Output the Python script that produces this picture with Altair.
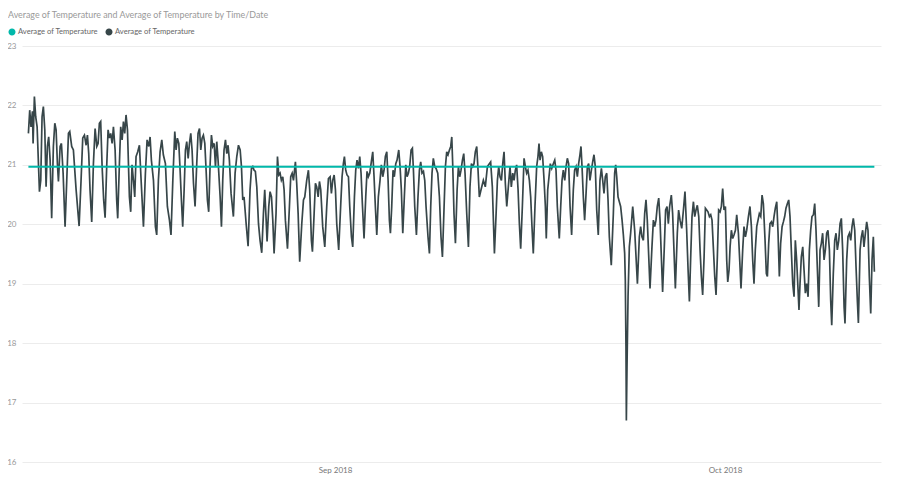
import altair as alt
import pandas as pd

FONT = "Segoe UI, Lato, sans-serif"
START = pd.Timestamp("2018-08-08")

# readings: days since 2018-08-08 00:00 and temperature
aug_a_day = [0.41, 0.51, 0.61, 0.72, 0.77, 0.87, 0.97, 1.08, 1.26, 1.36,
             1.46, 1.56, 1.67, 1.77, 1.87, 1.97, 2.08, 2.20, 2.33, 2.44,
             2.54, 2.64, 2.72, 2.85, 2.95, 3.08, 3.23, 3.36, 3.49, 3.59,
             3.74, 3.87, 4.08, 4.31, 4.46, 4.59, 4.72, 4.85, 4.95, 5.05,
             5.15, 5.28, 5.41, 5.54, 5.67, 5.77, 5.87, 5.97, 6.08, 6.20,
             6.31, 6.44, 6.54, 6.64, 6.74, 6.85, 6.95, 7.08, 7.20, 7.28,
             7.41, 7.51, 7.62, 7.72, 7.82, 7.92, 8.03, 8.18, 8.28, 8.38,
             8.49, 8.59, 8.69, 8.82, 8.95, 9.08, 9.26, 9.41, 9.54, 9.67,
             9.77, 9.87, 10.03, 10.18, 10.28, 10.41, 10.54, 10.67, 10.79, 10.95,
             11.10, 11.26, 11.38]
aug_a_temp = [21.53, 21.92, 21.64, 21.90, 21.36, 22.15, 21.81, 21.64, 20.55, 20.74,
              21.81, 21.98, 21.59, 20.63, 21.31, 21.47, 21.08, 20.10, 21.31, 21.70,
              21.59, 21.02, 20.72, 21.31, 21.36, 20.86, 19.96, 20.74, 21.53, 21.56,
              21.31, 21.25, 20.58, 19.97, 20.74, 21.45, 21.50, 21.33, 21.50, 21.19,
              20.58, 20.04, 21.02, 21.61, 21.31, 21.36, 21.70, 21.73, 20.97, 20.41,
              20.11, 21.02, 21.59, 21.45, 21.53, 21.36, 21.64, 21.25, 20.41, 20.10,
              21.02, 21.64, 21.42, 21.73, 21.53, 21.84, 21.59, 20.46, 20.21, 21.00,
              20.74, 20.46, 21.14, 21.22, 21.33, 20.74, 19.96, 20.86, 21.42, 21.31,
              21.47, 21.08, 20.74, 19.96, 19.82, 20.74, 21.22, 21.42, 21.17, 21.02,
              20.30, 20.07, 19.82]

aug_b_day = [11.52, 11.67, 11.77, 11.87, 11.98, 12.08, 12.18, 12.28, 12.39, 12.49,
             12.59, 12.70, 12.80, 12.90, 13.00, 13.11, 13.23, 13.36, 13.46, 13.57,
             13.67, 13.77, 13.87, 13.98, 14.08, 14.18, 14.28, 14.39, 14.49, 14.59,
             14.70, 14.80, 14.90, 15.00, 15.16, 15.26, 15.36, 15.46, 15.57, 15.67,
             15.77, 15.87, 16.00, 16.18, 16.31, 16.44, 16.57, 16.70, 16.80, 16.90,
             17.00, 17.16, 17.31, 17.46, 17.57, 17.67, 17.77, 17.87, 17.98, 18.11,
             18.23, 18.36, 18.49, 18.59, 18.70, 18.77, 18.90, 19.00, 19.11, 19.21,
             19.31, 19.46, 19.57, 19.67, 19.77, 19.87, 19.98, 20.08, 20.18, 20.34,
             20.49, 20.59, 20.70, 20.80, 20.95, 21.05, 21.16, 21.28, 21.44, 21.57,
             21.67, 21.82, 21.95, 22.05, 22.18, 22.26, 22.39, 22.49, 22.59, 22.70,
             22.80, 22.90, 23.05, 23.21, 23.36, 23.49, 23.62, 23.72, 23.82, 23.93,
             24.03, 24.13, 24.28, 24.44, 24.54]
aug_b_temp = [20.74, 21.56, 21.25, 21.45, 21.36, 20.91, 20.41, 19.96, 20.58, 21.25,
              21.39, 21.11, 21.36, 21.53, 21.25, 20.69, 20.30, 21.02, 21.53, 21.61,
              21.25, 21.45, 21.50, 21.36, 20.91, 20.41, 20.21, 21.02, 21.50, 21.31,
              21.36, 20.97, 21.39, 21.08, 20.46, 19.96, 20.74, 21.25, 21.42, 21.19,
              21.33, 21.08, 20.52, 20.13, 20.86, 21.14, 21.33, 21.25, 20.97, 20.41,
              20.46, 20.01, 19.63, 20.58, 20.94, 20.97, 20.91, 20.89, 20.63, 20.01,
              19.73, 19.52, 20.18, 20.58, 20.07, 19.71, 20.30, 20.55, 20.46, 20.07,
              19.51, 20.18, 21.14, 20.83, 20.86, 20.74, 20.80, 20.58, 20.07, 19.59,
              20.30, 20.80, 20.86, 20.74, 21.05, 20.69, 20.18, 19.37, 20.01, 20.41,
              20.46, 20.74, 20.91, 20.58, 19.73, 19.54, 20.18, 20.69, 20.63, 20.46,
              20.72, 20.58, 19.96, 19.62, 20.30, 20.77, 20.80, 20.52, 20.74, 20.83,
              20.58, 20.01, 19.57, 20.35, 20.80]

sep_a_day = [24.64, 24.72, 24.82, 24.92, 25.03, 25.13, 25.26, 25.36, 25.49, 25.59,
             25.69, 25.80, 25.90, 26.00, 26.10, 26.23, 26.36, 26.46, 26.56, 26.67,
             26.79, 26.90, 27.00, 27.10, 27.21, 27.33, 27.46, 27.56, 27.67, 27.77,
             27.87, 27.98, 28.08, 28.18, 28.26, 28.36, 28.46, 28.56, 28.67, 28.77,
             28.90, 29.00, 29.10, 29.21, 29.33, 29.44, 29.54, 29.64, 29.74, 29.85,
             29.95, 30.03, 30.13, 30.26, 30.38, 30.49, 30.59, 30.69, 30.80, 30.90,
             31.00, 31.15, 31.26, 31.36, 31.46, 31.56, 31.67, 31.77, 31.90, 32.03,
             32.15, 32.26, 32.38, 32.49, 32.59, 32.69, 32.80, 32.90, 32.98, 33.05,
             33.15, 33.26, 33.39, 33.49, 33.59, 33.69, 33.80, 33.90, 34.00, 34.13,
             34.26, 34.38, 34.49, 34.59, 34.69, 34.79, 34.90, 35.00, 35.10, 35.23,
             35.41, 35.56, 35.72, 35.87, 35.97, 36.10, 36.26, 36.39, 36.49, 36.59,
             36.69, 36.80, 36.90, 37.00, 37.10, 37.21, 37.33]
sep_a_temp = [21.02, 21.14, 20.91, 20.83, 20.80, 20.30, 19.79, 19.62, 20.46, 20.91,
              21.08, 20.94, 21.14, 20.86, 20.35, 19.76, 20.46, 20.89, 20.80, 20.86,
              21.05, 21.22, 20.80, 20.30, 19.82, 20.46, 20.74, 21.00, 20.80, 20.91,
              21.14, 21.22, 20.74, 20.07, 19.85, 20.30, 20.91, 20.80, 21.02, 21.08,
              21.25, 20.97, 20.58, 19.85, 20.46, 21.00, 20.80, 20.86, 20.97, 21.25,
              21.28, 20.91, 20.30, 19.82, 20.46, 20.91, 21.05, 20.86, 20.89, 20.74,
              20.30, 19.79, 19.51, 20.30, 20.86, 21.11, 20.97, 20.94, 20.86, 20.46,
              19.79, 19.45, 20.24, 20.97, 21.22, 21.17, 21.25, 21.31, 21.47, 21.02,
              20.18, 19.68, 20.58, 20.97, 20.80, 20.91, 21.08, 21.19, 20.86, 20.18,
              19.62, 20.63, 21.02, 20.97, 21.02, 21.22, 21.31, 20.91, 20.46, 20.58,
              20.74, 20.63, 20.97, 21.02, 21.05, 20.63, 19.51, 20.18, 20.74, 20.97,
              20.80, 20.74, 21.02, 21.22, 20.69, 20.30, 20.63]

sep_b_day = [37.46, 37.56, 37.67, 37.77, 37.87, 37.97, 38.08, 38.18, 38.28, 38.41,
             38.54, 38.64, 38.74, 38.84, 38.95, 39.05, 39.15, 39.25, 39.38, 39.51,
             39.61, 39.69, 39.77, 39.87, 39.97, 40.08, 40.18, 40.25, 40.36, 40.46,
             40.56, 40.67, 40.79, 40.90, 41.00, 41.10, 41.25, 41.36, 41.46, 41.56,
             41.67, 41.77, 41.87, 41.97, 42.08, 42.20, 42.33, 42.43, 42.54, 42.64,
             42.74, 42.84, 42.92, 43.00, 43.10, 43.20, 43.31, 43.41, 43.51, 43.61,
             43.72, 43.82, 43.92, 44.02, 44.13, 44.25, 44.38, 44.49, 44.59, 44.69,
             44.79, 44.90, 45.00, 45.10, 45.25, 45.41, 45.51, 45.59, 45.67, 45.77,
             45.87, 45.97, 46.08, 46.18, 46.28, 46.33, 46.38, 46.41, 46.46, 46.54,
             46.64, 46.74, 46.90, 47.05, 47.26, 47.41, 47.51, 47.61, 47.72, 47.82,
             47.92, 48.02, 48.23, 48.38, 48.49, 48.59, 48.69, 48.79, 48.90, 49.00,
             49.20, 49.33, 49.43, 49.54, 49.64, 49.74, 49.87, 49.97, 50.18, 50.33,
             50.43, 50.54]
sep_b_temp = [20.97, 20.63, 20.86, 20.74, 20.91, 21.00, 20.58, 20.01, 19.59, 20.30,
              21.11, 20.97, 20.86, 20.91, 20.74, 20.46, 19.96, 19.51, 20.30, 20.97,
              21.14, 21.36, 21.08, 21.22, 21.14, 20.74, 20.30, 19.76, 20.58, 20.80,
              21.02, 20.94, 21.02, 21.08, 20.91, 20.30, 19.76, 20.30, 20.74, 20.91,
              20.74, 20.97, 21.11, 21.02, 20.30, 19.82, 20.58, 20.91, 20.97, 20.80,
              21.02, 21.17, 21.31, 20.97, 20.46, 20.07, 20.52, 20.97, 21.02, 20.74,
              20.91, 21.05, 21.17, 20.97, 20.24, 19.82, 20.74, 20.94, 20.74, 20.52,
              20.80, 20.86, 20.41, 19.79, 19.31, 20.18, 20.86, 21.00, 20.80, 20.46,
              20.38, 20.30, 20.07, 19.82, 19.51, 19.06, 17.94, 16.70, 17.60, 18.78,
              19.62, 19.85, 20.30, 19.90, 19.00, 19.79, 19.96, 19.79, 19.73, 20.18,
              20.41, 20.07, 18.92, 19.62, 20.07, 19.96, 20.07, 20.30, 20.44, 20.07,
              18.86, 19.62, 20.24, 20.30, 20.01, 20.30, 20.49, 20.18, 18.92, 19.85,
              20.24, 20.07]

oct_day = [50.67, 50.80, 50.92, 51.05, 51.16, 51.26, 51.36, 51.46, 51.57, 51.67,
           51.77, 51.87, 51.98, 52.08, 52.18, 52.28, 52.39, 52.49, 52.59, 52.69,
           52.80, 52.90, 53.00, 53.10, 53.21, 53.31, 53.41, 53.51, 53.62, 53.72,
           53.82, 53.92, 54.03, 54.13, 54.21, 54.31, 54.39, 54.49, 54.59, 54.69,
           54.80, 54.90, 55.03, 55.13, 55.23, 55.36, 55.46, 55.57, 55.67, 55.80,
           55.92, 56.03, 56.13, 56.23, 56.33, 56.44, 56.54, 56.64, 56.75, 56.85,
           56.95, 57.08, 57.18, 57.26, 57.36, 57.46, 57.57, 57.67, 57.77, 57.87,
           57.98, 58.08, 58.18, 58.28, 58.39, 58.49, 58.59, 58.69, 58.80, 58.90,
           59.00, 59.10, 59.21, 59.31, 59.41, 59.51, 59.62, 59.69, 59.77, 59.87,
           59.98, 60.08, 60.18, 60.28, 60.39, 60.49, 60.59, 60.69, 60.80, 60.90,
           61.00, 61.10, 61.21, 61.31, 61.41, 61.51, 61.62, 61.72, 61.82, 61.92,
           62.03, 62.13, 62.21, 62.33, 62.44, 62.54, 62.64, 62.75, 62.85, 62.95,
           63.05, 63.16, 63.23, 63.36, 63.46, 63.57, 63.67, 63.77, 63.87, 63.98,
           64.08, 64.18, 64.26, 64.39, 64.49, 64.59, 64.69, 64.80, 64.90, 65.00,
           65.10, 65.21, 65.31, 65.41, 65.49]
oct_temp = [19.93, 20.24, 20.55, 19.90, 19.23, 18.70, 19.45, 20.13, 20.38, 20.13,
            20.24, 20.32, 20.13, 19.57, 19.12, 18.81, 19.45, 20.27, 20.24, 20.21,
            20.13, 20.16, 20.07, 19.62, 19.12, 18.81, 19.45, 20.24, 20.21, 20.30,
            20.60, 20.24, 20.30, 19.40, 19.03, 19.23, 19.62, 19.90, 19.76, 19.82,
            19.90, 20.16, 19.85, 19.40, 18.92, 19.57, 19.96, 19.79, 19.90, 20.13,
            20.30, 19.96, 19.40, 19.00, 19.57, 19.96, 20.07, 20.18, 20.13, 20.49,
            20.35, 19.73, 19.17, 19.12, 19.68, 20.01, 20.04, 19.96, 20.13, 20.27,
            20.38, 19.85, 19.12, 19.68, 19.96, 20.04, 20.13, 20.27, 20.35, 20.41,
            20.13, 19.57, 19.00, 18.78, 19.73, 19.40, 18.89, 18.56, 19.00, 19.45,
            19.62, 19.23, 18.84, 19.00, 18.78, 19.57, 19.90, 20.13, 20.16, 20.35,
            19.90, 19.28, 18.61, 19.57, 19.68, 19.85, 19.40, 19.57, 19.85, 19.90,
            19.57, 18.72, 18.30, 19.17, 19.73, 19.85, 19.57, 19.73, 20.01, 20.10,
            19.57, 18.61, 18.33, 19.40, 19.79, 19.85, 19.73, 19.96, 20.10, 19.90,
            19.28, 18.72, 18.34, 19.57, 19.79, 19.90, 19.62, 19.85, 20.04, 19.90,
            19.12, 18.50, 19.40, 19.79, 19.20]

avg_temp = 20.97
series_names = ["mean", "reading"]
series_colors = ["#01B8AA", "#374649"]
legend_label = "Average of Temperature"
title_text = "Average of Temperature and Average of Temperature by Time/Date"

days = aug_a_day + aug_b_day + sep_a_day + sep_b_day + oct_day
temps = aug_a_temp + aug_b_temp + sep_a_temp + sep_b_temp + oct_temp

readings = pd.DataFrame({
    "time": START + pd.to_timedelta(days, unit="D"),
    "temp": temps,
    "series": "reading",
})
mean_df = pd.DataFrame({
    "time": [readings.time.min(), readings.time.max()],
    "temp": [avg_temp, avg_temp],
    "series": "mean",
})

x = alt.X(
    "time:T",
    scale=alt.Scale(domain=[alt.DateTime(year=2018, month=8, date=7, hours=22),
                            alt.DateTime(year=2018, month=10, date=13)]),
    axis=alt.Axis(
        values=[alt.DateTime(year=2018, month=9, date=1),
                alt.DateTime(year=2018, month=10, date=1)],
        format="%b %Y", grid=False, domain=False, ticks=False,
        labelColor="#777777", labelFontSize=8, labelPadding=4, title=None,
    ),
)
y = alt.Y(
    "temp:Q",
    scale=alt.Scale(domain=[16, 23], nice=False),
    axis=alt.Axis(
        values=list(range(16, 24)), domain=False, ticks=False,
        gridColor="#ececec", labelColor="#999999", labelFontSize=8,
        labelPadding=6, title=None,
    ),
)
# a thick stroke round a tiny circle reads as a filled dot
legend = alt.Legend(
    orient="none", legendX=-14, legendY=-18, direction="horizontal",
    title=None, labelExpr=f"'{legend_label}'", symbolType="circle",
    symbolSize=12, symbolStrokeWidth=3.6, symbolOpacity=1,
    labelFontSize=7.6, labelColor="#666666", labelOffset=2,
    columnPadding=2, padding=0,
)
color = alt.Color(
    "series:N", scale=alt.Scale(domain=series_names, range=series_colors),
    legend=legend,
)

temp_line = alt.Chart(readings).mark_line(strokeWidth=1.7).encode(
    x=x, y=y, color=color
)
mean_line = alt.Chart(mean_df).mark_line(strokeWidth=2).encode(
    x=x, y=y, color=color
)

chart = (
    alt.layer(temp_line, mean_line)
    .properties(
        width=859, height=416,
        padding={"left": 14, "top": 38, "right": 10, "bottom": 20},
        autosize=alt.AutoSizeParams(type="none"),
        title=alt.TitleParams(
            text=title_text, anchor="start", frame="group", dx=-14,
            fontSize=8.9, fontWeight="normal", color="#999999", font=FONT,
            offset=8,
        ),
    )
    .configure_view(stroke=None)
    .configure_axis(labelFont=FONT)
    .configure_legend(labelFont=FONT)
)

chart.save("out.html", embed_options={"renderer": "svg", "actions": False})
